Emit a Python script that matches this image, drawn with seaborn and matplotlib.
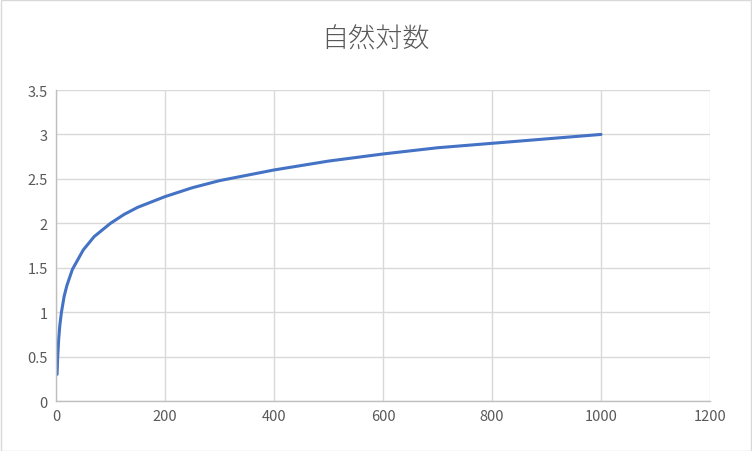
import seaborn as sns
import matplotlib.pyplot as plt
import pandas as pd

# values
x_vals = [2, 3, 5, 7, 10, 15, 20, 30, 50, 70, 100, 125, 150, 200, 250, 300, 350, 400, 500, 600, 700, 800, 900, 1000]
y_vals = [0.30, 0.48, 0.70, 0.85, 1.00, 1.18, 1.30, 1.48, 1.70, 1.85, 2.00, 2.10, 2.18, 2.30, 2.40, 2.48, 2.54, 2.60, 2.70, 2.78, 2.85, 2.90, 2.95, 3.00]
x_ticks = [0, 200, 400, 600, 800, 1000, 1200]
y_ticks = [0, 0.5, 1, 1.5, 2, 2.5, 3, 3.5]
y_labels = ["0", "0.5", "1", "1.5", "2", "2.5", "3", "3.5"]
title = "自然対数"

df = pd.DataFrame({"x": x_vals, "y": y_vals})

sns.set_style("white")
plt.rcParams["font.family"] = ["Noto Sans CJK JP", "DejaVu Sans"]

fig = plt.figure(figsize=(7.52, 4.52), dpi=100)
ax = fig.add_axes([56 / 752, 1 - 402 / 452, (710 - 56) / 752, (402 - 91) / 452])

sns.lineplot(data=df, x="x", y="y", ax=ax, color="#4472C4", linewidth=2.2)

ax.set_xlim(0, 1200)
ax.set_ylim(0, 3.5)
ax.set_xticks(x_ticks)
ax.set_yticks(y_ticks)
ax.set_yticklabels(y_labels)
ax.grid(True, color="#d9d9d9", linewidth=1)
ax.set_axisbelow(True)
ax.set_xlabel("")
ax.set_ylabel("")
for side in ["top", "right"]:
    ax.spines[side].set_visible(False)
for side in ["left", "bottom"]:
    ax.spines[side].set_color("#bfbfbf")
    ax.spines[side].set_linewidth(1)
ax.tick_params(axis="both", length=0, labelsize=10.5, colors="#595959", pad=6)

fig.text(0.5, 1 - 40 / 452, title, ha="center", va="center", fontsize=19.5,
         fontweight="light", color="#595959")

# chart border
fig.patches.append(plt.Rectangle((0.001, 0.001), 0.998, 0.997, transform=fig.transFigure,
                                 fill=False, edgecolor="#d9d9d9", linewidth=1))

fig.savefig("out.png", dpi=100)
